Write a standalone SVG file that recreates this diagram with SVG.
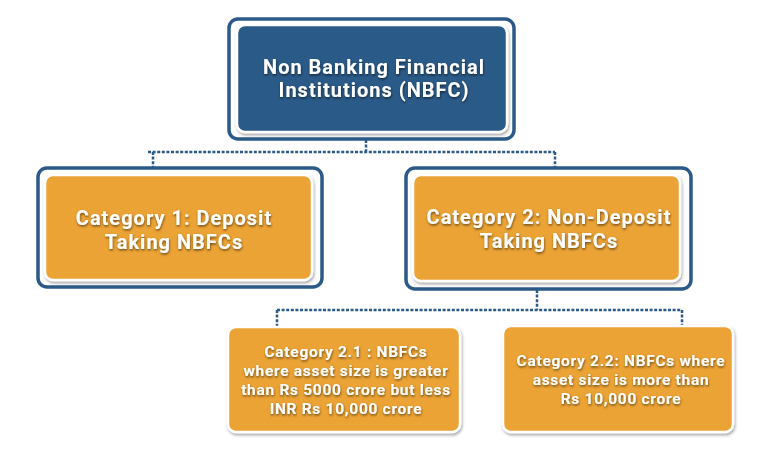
<svg xmlns="http://www.w3.org/2000/svg" width="768" height="469" viewBox="0 0 768 469">
<style>
.frame{fill:#ffffff;stroke:#2c5a88;stroke-width:3.5}
.blue{fill:#2b5a87;stroke:#ffffff;stroke-width:2.5}
.orange{fill:#eca335;stroke:#ffffff;stroke-width:2.5}
.t{font-family:Roboto,"Liberation Sans",sans-serif;font-weight:700;fill:#ffffff;text-anchor:middle}
.big{font-size:20px;letter-spacing:1px}
.small{font-size:15.5px;letter-spacing:0.7px}
.conn{fill:none;stroke:#2c5a88;stroke-width:2.5;stroke-dasharray:3 1.6}
</style>
<defs>
<filter id="sh" x="-10%" y="-10%" width="120%" height="130%">
<feDropShadow dx="1" dy="2" stdDeviation="1.5" flood-color="#000000" flood-opacity="0.35"/>
</filter>
<filter id="tsh" x="-10%" y="-20%" width="120%" height="150%">
<feDropShadow dx="0.5" dy="1.5" stdDeviation="1" flood-color="#000000" flood-opacity="0.55"/>
</filter>
</defs>
<rect width="768" height="469" fill="#ffffff"/>
<g id="connectors">
<path class="conn" d="M366 140 V152 M148 152 H555 M153 152 V167 M555 152 V167"/>
<path class="conn" d="M537 290 V310 M277 310 H682 M277 310 V327 M682 310 V326"/>
</g>
<g id="nbfc">
<rect class="frame" x="229" y="19" width="285" height="120" rx="9"/>
<rect class="blue" x="237" y="25" width="270" height="107" rx="8" filter="url(#sh)"/>
<g filter="url(#tsh)">
<text class="t big" x="374" y="74">Non Banking Financial</text>
<text class="t big" x="374" y="97">Institutions (NBFC)</text>
</g>
</g>
<g id="cat1">
<rect class="frame" x="38" y="168" width="284" height="119" rx="9"/>
<rect class="orange" x="45" y="175" width="267" height="105" rx="8" filter="url(#sh)"/>
<g filter="url(#tsh)">
<text class="t big" x="174" y="225">Category 1: Deposit</text>
<text class="t big" x="174" y="249">Taking NBFCs</text>
</g>
</g>
<g id="cat2">
<rect class="frame" x="406" y="168" width="285" height="121" rx="9"/>
<rect class="orange" x="413" y="175" width="267" height="106" rx="8" filter="url(#sh)"/>
<g filter="url(#tsh)">
<text class="t big" x="549" y="224">Category 2: Non-Deposit</text>
<text class="t big" x="549" y="248">Taking NBFCs</text>
</g>
</g>
<g id="cat21">
<rect class="orange" x="228" y="327" width="232" height="105" rx="8" filter="url(#sh)"/>
<g filter="url(#tsh)">
<text class="t small" x="346" y="357">Category 2.1 : NBFCs</text>
<text class="t small" x="346" y="376">where asset size is greater</text>
<text class="t small" x="346" y="395">than Rs 5000 crore but less</text>
<text class="t small" x="346" y="414">INR Rs 10,000 crore</text>
</g>
</g>
<g id="cat22">
<rect class="orange" x="503" y="326" width="230" height="106" rx="8" filter="url(#sh)"/>
<g filter="url(#tsh)">
<text class="t small" x="621" y="366">Category 2.2: NBFCs where</text>
<text class="t small" x="621" y="385">asset size is more than</text>
<text class="t small" x="621" y="404">Rs  10,000 crore</text>
</g>
</g>
</svg>
